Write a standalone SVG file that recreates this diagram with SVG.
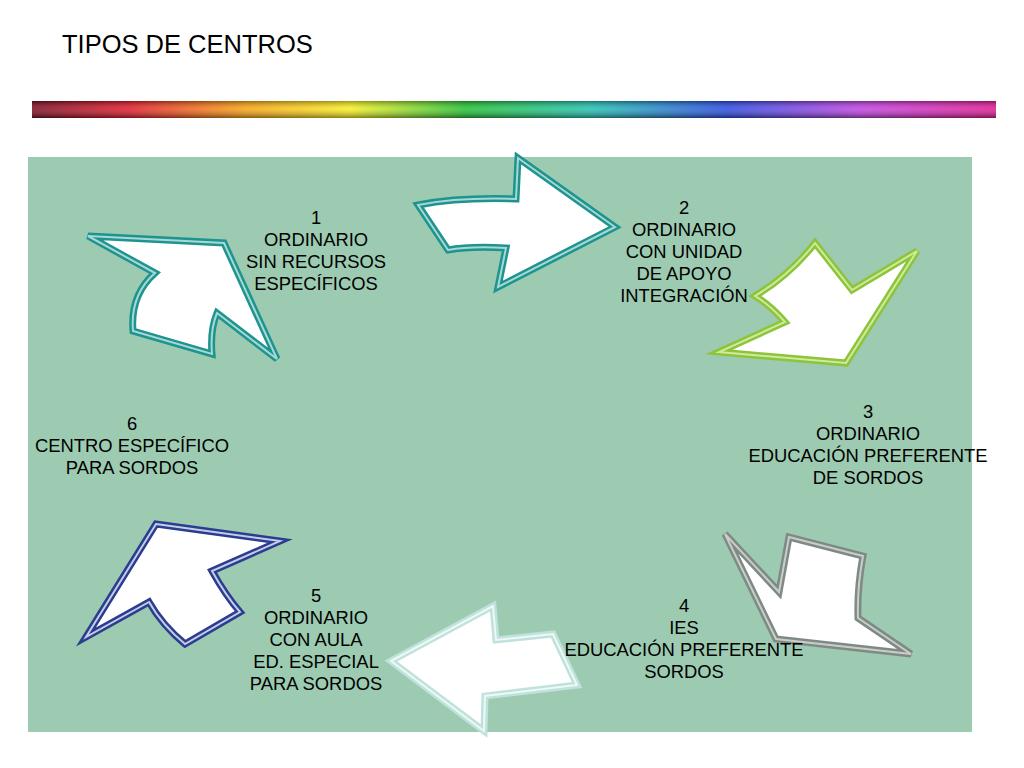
<svg xmlns="http://www.w3.org/2000/svg" width="1024" height="768" viewBox="0 0 1024 768">
<defs>
<linearGradient id="rb" x1="0" x2="1" y1="0" y2="0">
<stop offset="0" stop-color="#7a0a20"/><stop offset="0.1" stop-color="#e01828"/><stop offset="0.22" stop-color="#f8a010"/><stop offset="0.33" stop-color="#f8f020"/><stop offset="0.45" stop-color="#20c030"/><stop offset="0.58" stop-color="#20c0b0"/><stop offset="0.72" stop-color="#2848e0"/><stop offset="0.86" stop-color="#c040e0"/><stop offset="1" stop-color="#e01890"/>
</linearGradient>
<linearGradient id="sh" x1="0" x2="0" y1="0" y2="1">
<stop offset="0" stop-color="#000" stop-opacity="0.35"/><stop offset="0.45" stop-color="#fff" stop-opacity="0.15"/><stop offset="1" stop-color="#000" stop-opacity="0.45"/>
</linearGradient>
</defs>
<style>
text{font-family:"Liberation Sans",Arial,sans-serif;font-size:18.4px;fill:#000;text-anchor:middle}
.o{fill:#fff;stroke-width:7;stroke-linejoin:miter}
.i{fill:none;stroke-width:2;stroke-linejoin:miter}
</style>
<rect width="1024" height="768" fill="#fff"/>
<text x="62" y="53" style="font-size:25.5px;text-anchor:start">TIPOS DE CENTROS</text>
<rect x="32" y="101" width="964" height="17" fill="url(#rb)"/>
<rect x="32" y="101" width="964" height="17" fill="url(#sh)"/>
<rect x="28" y="157" width="944" height="575" fill="#9ccbb2"/>
<g id="connectors">
<g id="a12"><path d="M418,205 Q460,197 516,199 L518,158 L615,227 L498,287 L506,248 Q470,246 448,250 Z" class="o" stroke="#1d9490"/><path d="M418,205 Q460,197 516,199 L518,158 L615,227 L498,287 L506,248 Q470,246 448,250 Z" class="i" stroke="#a9d8d4"/></g>
<g id="a23"><path d="M815,243 L852,290 L917,251 L846,363 L719,352 L785,322 Q770,305 755,296 Q790,275 815,243 Z" class="o" stroke="#8cc43c"/><path d="M815,243 L852,290 L917,251 L846,363 L719,352 L785,322 Q770,305 755,296 Q790,275 815,243 Z" class="i" stroke="#d0ea9c"/></g>
<g id="a34"><path d="M725,534 L779,592 L789,537 L863,556 Q857,588 858,618 L911,654 L776,639 Z" class="o" stroke="#7f8a86"/><path d="M725,534 L779,592 L789,537 L863,556 Q857,588 858,618 L911,654 L776,639 Z" class="i" stroke="#c8cec8"/></g>
<g id="a45"><path d="M391,661 L493,606 L496,640 L553,634 L577,685 L485,696 L484,731 Z" class="o" stroke="#bfe3dc"/><path d="M391,661 L493,606 L496,640 L553,634 L577,685 L485,696 L484,731 Z" class="i" stroke="#eef8f5"/></g>
<g id="a56"><path d="M156,524 L280,541 L212,571 Q226,596 240,612 L185,644 Q162,625 149,602 L86,637 Z" class="o" stroke="#2a3d8f"/><path d="M156,524 L280,541 L212,571 Q226,596 240,612 L185,644 Q162,625 149,602 L86,637 Z" class="i" stroke="#c5cce8"/></g>
<g id="a61"><path d="M88,236 L224,243 L277,359 L217,313 Q210,330 212,354 L133,331 Q130,295 155,273 Z" class="o" stroke="#1d9490"/><path d="M88,236 L224,243 L277,359 L217,313 Q210,330 212,354 L133,331 Q130,295 155,273 Z" class="i" stroke="#a9d8d4"/></g>
</g>
<g id="n1"><text x="316" y="224">1</text><text x="316" y="246">ORDINARIO</text><text x="316" y="268">SIN RECURSOS</text><text x="316" y="290">ESPECÍFICOS</text></g>
<g id="n2"><text x="684" y="214">2</text><text x="684" y="236">ORDINARIO</text><text x="684" y="258">CON UNIDAD</text><text x="684" y="280">DE APOYO</text><text x="684" y="302">INTEGRACIÓN</text></g>
<g id="n3"><text x="868" y="418">3</text><text x="868" y="440">ORDINARIO</text><text x="868" y="462">EDUCACIÓN PREFERENTE</text><text x="868" y="484">DE SORDOS</text></g>
<g id="n4"><text x="684" y="612">4</text><text x="684" y="634">IES</text><text x="684" y="656">EDUCACIÓN PREFERENTE</text><text x="684" y="678">SORDOS</text></g>
<g id="n5"><text x="316" y="602">5</text><text x="316" y="624">ORDINARIO</text><text x="316" y="646">CON AULA</text><text x="316" y="668">ED. ESPECIAL</text><text x="316" y="690">PARA SORDOS</text></g>
<g id="n6"><text x="132" y="430">6</text><text x="132" y="452">CENTRO ESPECÍFICO</text><text x="132" y="474">PARA SORDOS</text></g>
</svg>
